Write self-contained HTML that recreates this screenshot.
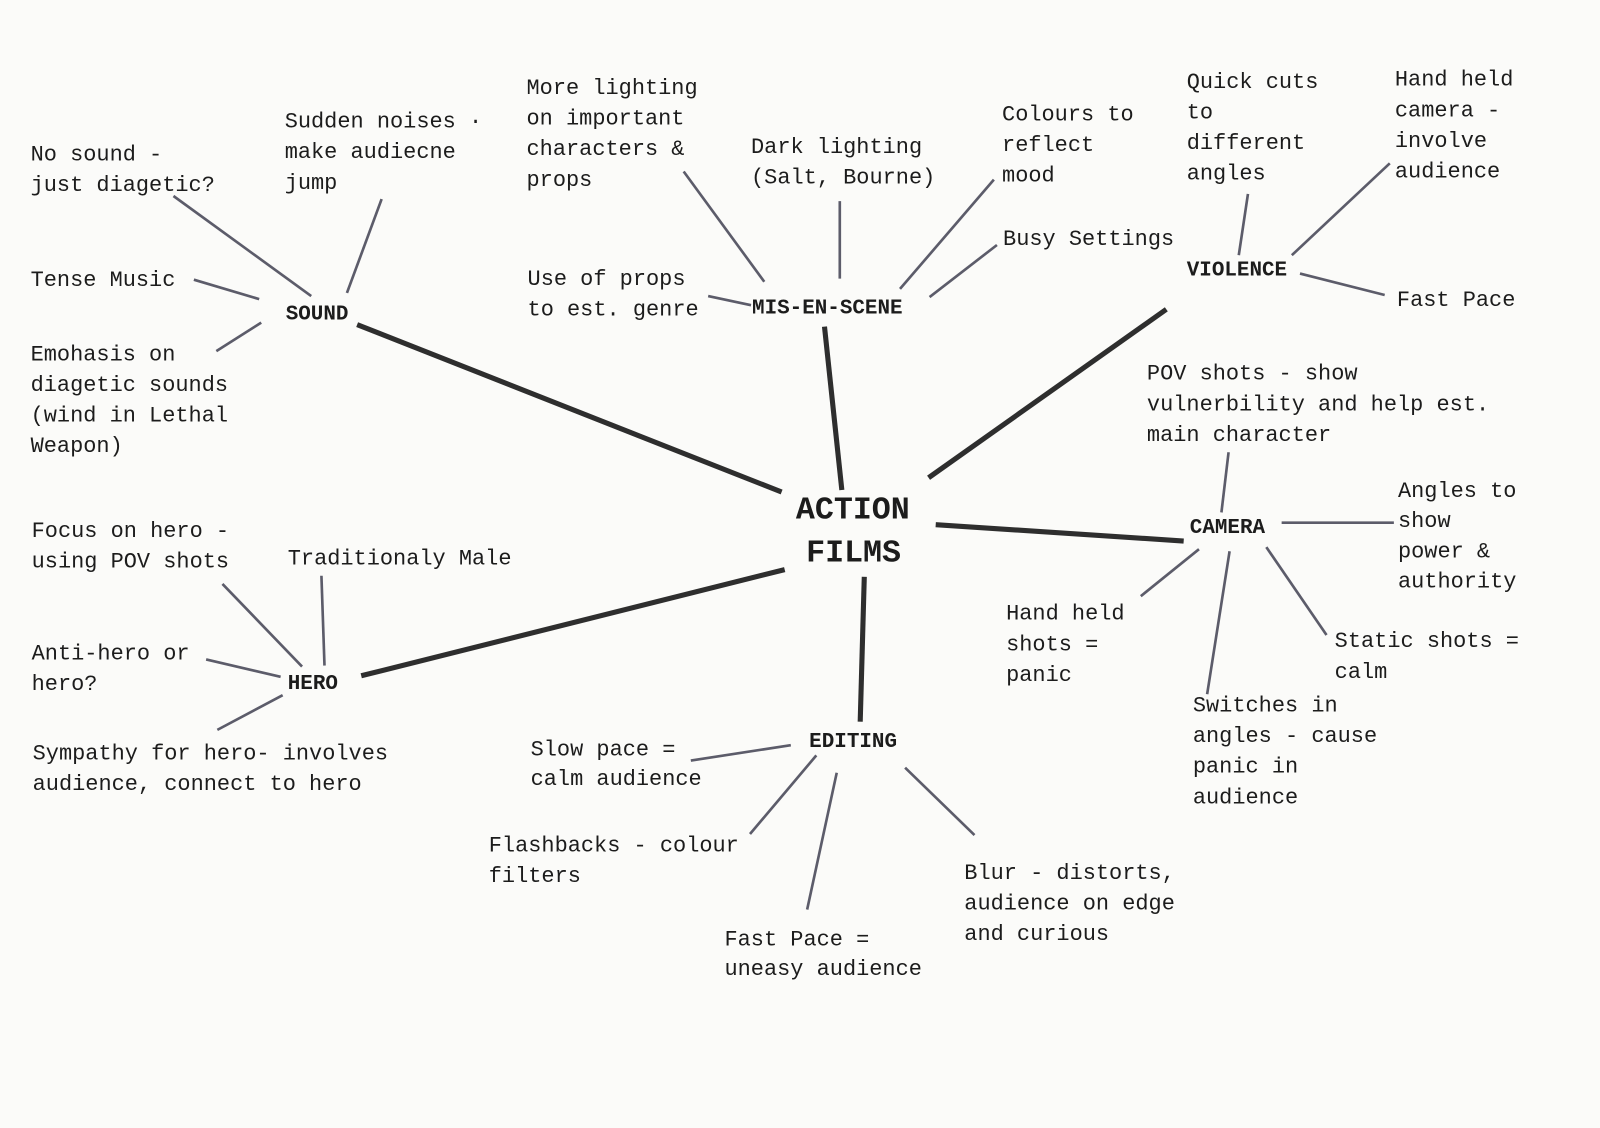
<!DOCTYPE html>
<html><head><meta charset="utf-8"><style>
html,body{margin:0;padding:0;background:#fbfbf9;}
svg{display:block;}
text{font-family:"Liberation Mono",monospace;font-size:21.5px;fill:#1c1c1c;}
.n{font-weight:bold;font-size:20.5px;}
.c{font-weight:bold;font-size:31px;}
.t{stroke:#2e2e2e;stroke-width:5;}
.s{stroke:#5c5c6a;stroke-width:2.6;}
</style></head><body>
<svg width="1600" height="1128" viewBox="0 0 1568 1105" preserveAspectRatio="none">
<rect width="1568" height="1105" fill="#fbfbf9"/>
<g class="t">
<line x1="350" y1="318" x2="766" y2="482"/>
<line x1="808" y1="320" x2="825" y2="480"/>
<line x1="1143" y1="303" x2="910" y2="468"/>
<line x1="917" y1="514" x2="1160" y2="530"/>
<line x1="847" y1="565" x2="843" y2="707"/>
<line x1="354" y1="662" x2="769" y2="558"/>
</g>
<g class="s">
<line x1="170" y1="192" x2="305" y2="290"/>
<line x1="374" y1="195" x2="340" y2="287"/>
<line x1="190" y1="274" x2="254" y2="293"/>
<line x1="256" y1="316" x2="212" y2="344"/>
<line x1="670" y1="168" x2="749" y2="276"/>
<line x1="823" y1="197" x2="823" y2="273"/>
<line x1="974" y1="176" x2="882" y2="283"/>
<line x1="977" y1="240" x2="911" y2="291"/>
<line x1="694" y1="290" x2="736" y2="299"/>
<line x1="1223" y1="190" x2="1214" y2="250"/>
<line x1="1362" y1="160" x2="1266" y2="250"/>
<line x1="1274" y1="268" x2="1357" y2="289"/>
<line x1="1204" y1="443" x2="1197" y2="502"/>
<line x1="1256" y1="512" x2="1366" y2="512"/>
<line x1="1175" y1="538" x2="1118" y2="584"/>
<line x1="1205" y1="540" x2="1183" y2="680"/>
<line x1="1241" y1="536" x2="1300" y2="622"/>
<line x1="677" y1="745" x2="775" y2="730"/>
<line x1="800" y1="740" x2="735" y2="817"/>
<line x1="820" y1="757" x2="791" y2="891"/>
<line x1="887" y1="752" x2="955" y2="818"/>
<line x1="218" y1="572" x2="296" y2="653"/>
<line x1="315" y1="564" x2="318" y2="652"/>
<line x1="202" y1="646" x2="275" y2="663"/>
<line x1="277" y1="681" x2="213" y2="715"/>
</g>
<text class="c" x="780" y="508">ACTION</text>
<text class="c" x="790" y="550">FILMS</text>
<text class="n" x="280" y="313">SOUND</text>
<text class="n" x="737" y="307">MIS-EN-SCENE</text>
<text class="n" x="1163" y="270">VIOLENCE</text>
<text class="n" x="1166" y="522">CAMERA</text>
<text class="n" x="793" y="732">EDITING</text>
<text class="n" x="282" y="675">HERO</text>

<text x="30" y="157">No sound -<tspan x="30" dy="30">just diagetic?</tspan></text>
<text x="279" y="125">Sudden noises ·<tspan x="279" dy="30">make audiecne</tspan><tspan x="279" dy="30">jump</tspan></text>
<text x="30" y="280">Tense Music</text>
<text x="30" y="353">Emohasis on<tspan x="30" dy="30">diagetic sounds</tspan><tspan x="30" dy="30">(wind in Lethal</tspan><tspan x="30" dy="30">Weapon)</tspan></text>
<text x="516" y="92">More lighting<tspan x="516" dy="30">on important</tspan><tspan x="516" dy="30">characters &amp;</tspan><tspan x="516" dy="30">props</tspan></text>
<text x="736" y="150">Dark lighting<tspan x="736" dy="30">(Salt, Bourne)</tspan></text>
<text x="982" y="118">Colours to<tspan x="982" dy="30">reflect</tspan><tspan x="982" dy="30">mood</tspan></text>
<text x="983" y="240">Busy Settings</text>
<text x="517" y="279">Use of props<tspan x="517" dy="30">to est. genre</tspan></text>
<text x="1163" y="86">Quick cuts<tspan x="1163" dy="30">to</tspan><tspan x="1163" dy="30">different</tspan><tspan x="1163" dy="30">angles</tspan></text>
<text x="1367" y="84">Hand held<tspan x="1367" dy="30">camera -</tspan><tspan x="1367" dy="30">involve</tspan><tspan x="1367" dy="30">audience</tspan></text>
<text x="1369" y="300">Fast Pace</text>
<text x="1124" y="372">POV shots - show<tspan x="1124" dy="30">vulnerbility and help est.</tspan><tspan x="1124" dy="30">main character</tspan></text>
<text x="1370" y="487">Angles to<tspan x="1370" dy="29.5">show</tspan><tspan x="1370" dy="29.5">power &amp;</tspan><tspan x="1370" dy="29.5">authority</tspan></text>
<text x="986" y="607">Hand held<tspan x="986" dy="30">shots =</tspan><tspan x="986" dy="30">panic</tspan></text>
<text x="1308" y="634">Static shots =<tspan x="1308" dy="30">calm</tspan></text>
<text x="1169" y="697">Switches in<tspan x="1169" dy="30">angles - cause</tspan><tspan x="1169" dy="30">panic in</tspan><tspan x="1169" dy="30">audience</tspan></text>
<text x="31" y="526">Focus on hero -<tspan x="31" dy="30">using POV shots</tspan></text>
<text x="282" y="553">Traditionaly Male</text>
<text x="31" y="646">Anti-hero or<tspan x="31" dy="30">hero?</tspan></text>
<text x="32" y="744">Sympathy for hero- involves<tspan x="32" dy="30">audience, connect to hero</tspan></text>
<text x="520" y="740">Slow pace =<tspan x="520" dy="29">calm audience</tspan></text>
<text x="479" y="834">Flashbacks - colour<tspan x="479" dy="30">filters</tspan></text>
<text x="710" y="926">Fast Pace =<tspan x="710" dy="29">uneasy audience</tspan></text>
<text x="945" y="861">Blur - distorts,<tspan x="945" dy="30">audience on edge</tspan><tspan x="945" dy="30">and curious</tspan></text>
</svg>
</body></html>
